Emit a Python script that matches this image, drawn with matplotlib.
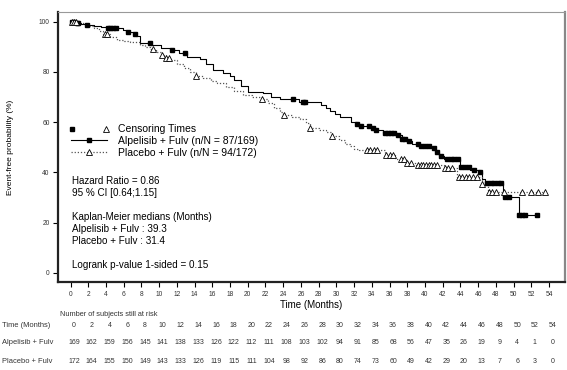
import numpy as np
import matplotlib
matplotlib.use("Agg")
import matplotlib.pyplot as plt
from matplotlib.lines import Line2D
from matplotlib.legend_handler import HandlerTuple
from matplotlib.transforms import blended_transform_factory

plt.rcParams['font.family'] = ['Liberation Sans', 'DejaVu Sans']

### Data
# Alpelisib + Fulv: step times (months) and survival (%)
alp_t = [0, 0.6, 1.2, 1.8, 2.6, 3.4, 4.1, 5.9, 6.3, 7.0, 7.4, 7.8, 9.1, 10.2, 11.2, 12.2, 13.1,
         14.6, 15.3, 16.1, 17.2, 18.0, 18.5, 19.2, 20.0, 21.7, 22.6, 23.6, 25.8, 28.3, 28.8, 29.3,
         29.8, 30.4, 31.7, 32.3, 32.8, 34.0, 34.5, 35.3, 36.8, 37.4, 38.0, 38.5, 39.4, 40.6, 41.1,
         41.6, 42.1, 43.9, 45.1, 46.2, 46.4, 46.8, 48.8, 50.6]
alp_s = [100, 99.6, 99.2, 98.7, 98.4, 98.1, 97.6, 96.9, 96.0, 95.2, 94.3, 91.4, 90.7, 89.7, 88.7,
         87.4, 86.0, 85.0, 83.0, 80.8, 79.7, 78.2, 76.8, 74.5, 72.1, 71.5, 70.2, 69.3, 68.1, 67.0,
         65.7, 64.4, 63.2, 62.0, 60.2, 59.1, 58.5, 57.7, 56.9, 55.8, 55.0, 53.3, 52.4, 51.5, 50.6,
         49.6, 48.2, 46.7, 45.3, 42.0, 40.9, 40.2, 37.5, 35.6, 30.3, 23.0]
alp_end = 52.6
alp_cens = [0.2, 0.4, 0.7, 0.9, 1.9, 4.2, 4.5, 4.8, 5.1, 6.5, 7.3, 9.0, 11.4, 12.9, 25.1, 26.2,
            26.5, 32.3, 32.8, 33.7, 34.1, 34.5, 35.5, 35.8, 36.2, 36.5, 37.0, 37.4, 37.8, 38.2,
            39.2, 39.6, 40.0, 40.4, 41.0, 41.4, 41.8, 42.5, 42.9, 43.3, 43.7, 44.1, 44.5, 45.0,
            45.5, 46.2, 47.0, 47.4, 47.8, 48.2, 48.6, 49.0, 49.5, 50.6, 51.0, 51.3, 52.6]

# Placebo + Fulv
pla_t = [0, 0.8, 1.5, 2.0, 2.6, 3.2, 3.7, 4.5, 5.2, 6.0, 6.7, 7.8, 8.4, 9.0, 9.6, 10.3, 10.8,
         11.2, 12.0, 12.8, 13.5, 14.2, 15.0, 15.8, 16.5, 17.5, 18.5, 19.5, 20.5, 21.6, 22.3, 23.0,
         23.6, 24.0, 25.0, 25.9, 26.6, 27.0, 28.0, 28.8, 29.5, 30.3, 31.0, 31.5, 32.0, 32.5, 35.5,
         36.6, 37.9, 39.0, 42.2, 43.6, 46.4, 47.1]
pla_s = [100, 99.4, 99.0, 98.5, 97.5, 96.3, 95.1, 94.0, 92.7, 92.2, 91.8, 90.7, 89.8, 89.0, 88.0,
         86.7, 85.4, 84.7, 83.2, 81.6, 80.0, 78.5, 77.5, 76.5, 75.5, 74.0, 72.5, 70.8, 70.0, 69.1,
         67.5, 65.8, 64.2, 62.8, 62.0, 61.2, 59.5, 57.5, 57.0, 56.0, 54.5, 53.0, 51.5, 50.5, 49.5,
         48.9, 46.9, 45.3, 43.8, 42.9, 41.6, 38.2, 35.2, 32.3]
pla_end = 53.7
pla_cens = [0.2, 0.4, 0.6, 3.9, 4.1, 9.3, 10.3, 10.8, 11.1, 14.2, 21.6, 24.1, 27.0, 29.5, 33.5,
            33.8, 34.2, 34.6, 35.6, 36.0, 36.4, 37.3, 37.6, 38.0, 38.4, 39.2, 39.5, 39.8, 40.1,
            40.4, 40.7, 41.0, 41.3, 42.3, 42.6, 43.0, 43.8, 44.2, 44.6, 45.0, 45.4, 45.9, 46.4,
            47.2, 47.6, 48.0, 48.9, 51.0, 52.0, 52.8, 53.5]

# Number at risk table
risk_times = list(range(0, 56, 2))
risk_alp = [169, 162, 159, 156, 145, 141, 138, 133, 126, 122, 112, 111, 108, 103, 102, 94, 91,
            85, 68, 56, 47, 35, 26, 19, 9, 4, 1, 0]
risk_pla = [172, 164, 155, 150, 149, 143, 133, 126, 119, 115, 111, 104, 98, 92, 86, 80, 74, 73,
            60, 49, 42, 29, 20, 13, 7, 6, 3, 0]

stats_lines = ["Hazard Ratio = 0.86", "95 % CI [0.64;1.15]",
               "Kaplan-Meier medians (Months)", "Alpelisib + Fulv : 39.3",
               "Placebo + Fulv : 31.4", "Logrank p-value 1-sided = 0.15"]
stats_y = [0.375, 0.330, 0.242, 0.197, 0.153, 0.064]   # axes fraction


def surv_at(times, surv, t):
    idx = np.searchsorted(times, t, side='right') - 1
    return np.array(surv)[idx]


### Figure
fig = plt.figure(figsize=(5.67, 3.70), dpi=100)
ax = fig.add_axes([0.102, 0.237, 0.8945, 0.7306])

# curves
ax.step(alp_t + [alp_end], alp_s + [alp_s[-1]], where='post', color='black', lw=0.8)
ax.step(pla_t + [pla_end], pla_s + [pla_s[-1]], where='post', color='#555555', lw=0.9,
        linestyle=(0, (1, 1.5)))

# censoring marks
ax.plot(alp_cens, surv_at(alp_t, alp_s, alp_cens), linestyle='none', marker='s',
        ms=3.2, color='black')
ax.plot(pla_cens, surv_at(pla_t, pla_s, pla_cens), linestyle='none', marker='^',
        ms=4.5, mfc='white', mec='black', mew=0.6)

ax.set_xlim(-1.43, 55.8)
ax.set_ylim(-3.8, 103.9)
ax.set_xticks(risk_times)
ax.set_yticks([0, 20, 40, 60, 80, 100])
ax.tick_params(axis='both', direction='out', length=3.5, width=0.8, labelsize=4.8,
               labelcolor='#333333', pad=2.5)
ax.set_xlabel("Time (Months)", fontsize=7, labelpad=2)
ax.set_ylabel("Event-free probability (%)", fontsize=6)
ax.yaxis.set_label_coords(-0.087, 0.5)

for side in ['left', 'bottom']:
    ax.spines[side].set_linewidth(1.6)
    ax.spines[side].set_color('#222222')
ax.spines['right'].set_linewidth(1.6)
ax.spines['right'].set_color('#888888')
ax.spines['top'].set_linewidth(0.8)
ax.spines['top'].set_color('#999999')

# legend
sq = Line2D([], [], linestyle='none', marker='s', ms=3.2, color='black')
tri = Line2D([], [], linestyle='none', marker='^', ms=4.5, mfc='white', mec='black', mew=0.6)
h_alp = Line2D([], [], color='black', lw=0.8, marker='s', ms=3.2)
h_pla = Line2D([], [], color='#555555', lw=0.9, linestyle=(0, (1, 1.5)), marker='^', ms=4.5,
               mfc='white', mec='black', mew=0.6)
ax.legend([(sq, tri), h_alp, h_pla],
          ["Censoring Times", "Alpelisib + Fulv (n/N = 87/169)", "Placebo + Fulv (n/N = 94/172)"],
          handler_map={tuple: HandlerTuple(ndivide=None, pad=3.2)},
          loc='upper left', bbox_to_anchor=(0.0256, 0.585), frameon=False,
          fontsize=7.5, handlelength=3.5, handletextpad=1.05, labelspacing=0.18,
          borderpad=0, borderaxespad=0, numpoints=1)

for line, yy in zip(stats_lines, stats_y):
    ax.text(0.027, yy, line, transform=ax.transAxes, fontsize=7.1, va='center', ha='left')

# number at risk table
trans = blended_transform_factory(ax.transData, fig.transFigure)
fig.text(0.106, 0.151, "Number of subjects still at risk", fontsize=5.3, va='center',
         color='#333333')
rows = [("Time (Months)", risk_times, 0.119),
        ("Alpelisib + Fulv", risk_alp, 0.073),
        ("Placebo + Fulv", risk_pla, 0.024)]
for label, vals, yy in rows:
    fig.text(0.004, yy, label, fontsize=5.4, va='center', ha='left', color='#333333')
    for t, v in zip(risk_times, vals):
        ax.text(t + 0.4, yy, str(v), transform=trans, fontsize=5.0, va='center',
                ha='center', color='#333333', clip_on=False)

fig.savefig("out.png", dpi=100)
